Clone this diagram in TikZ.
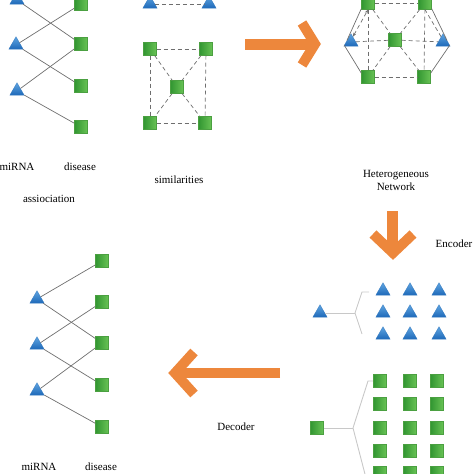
\documentclass[tikz,border=0pt]{standalone}
\usepackage{fontspec}
\setmainfont{Liberation Serif}
\usetikzlibrary{shapes.geometric,arrows.meta}
\definecolor{sqfillA}{RGB}{50,150,50}
\definecolor{sqfillB}{RGB}{105,195,85}
\definecolor{sqline}{RGB}{75,160,65}
\definecolor{trifillA}{RGB}{95,165,225}
\definecolor{trifillB}{RGB}{30,105,185}
\definecolor{triline}{RGB}{50,120,190}
\definecolor{arroworange}{RGB}{237,135,60}
\definecolor{edgegray}{RGB}{110,110,110}
\definecolor{bracegray}{RGB}{200,200,200}
\begin{document}
\begin{tikzpicture}[x=1pt,y=-1pt,
 sq/.style={rectangle, minimum size=13pt, inner sep=0pt, draw=sqline, line width=0.3pt, shading=axis, shading angle=45, left color=sqfillA, right color=sqfillB},
 tri/.style={regular polygon, regular polygon sides=3, minimum size=16.5pt, inner sep=0pt, draw=triline, line width=0.3pt, top color=trifillA, bottom color=trifillB},
 edge/.style={draw=edgegray, line width=0.7pt},
 dedge/.style={edge, dash pattern=on 4pt off 3pt},
 brace/.style={draw=bracegray, line width=0.9pt},
 bigshaft/.style={draw=arroworange, line width=11pt},
 chev/.style={draw=arroworange, line width=10pt, miter limit=10},
 lbl/.style={font=\fontsize{11}{13}\selectfont, inner sep=0pt},
 tip/.style={-{Stealth[length=4pt,width=3pt]}}]
\useasboundingbox (0,0) rectangle (474,474);
\clip (0,0) rectangle (474,474);

% ---------- top-left: association ----------
\node[tri] (a1) at (17,0) {};
\node[tri] (a2) at (16,45) {};
\node[tri] (a3) at (17,91) {};
\node[sq] (b1) at (81,4) {};
\node[sq] (b2) at (81,44) {};
\node[sq] (b3) at (81,86) {};
\node[sq] (b4) at (81,127) {};
\draw[edge] (a1) -- (b2);
\draw[edge] (a2) -- (b1);
\draw[edge] (a2) -- (b3);
\draw[edge] (a3) -- (b2);
\draw[edge] (a3) -- (b4);
\node[lbl] (lmirna1) at (17,167) {miRNA};
\node[lbl] (ldis1) at (80,167) {disease};
\node[lbl] (lasso) at (49,199) {assiociation};

% ---------- similarities ----------
\node[tri] (sT1) at (150,4) {};
\node[tri] (sT2) at (209,4) {};
\draw[dedge] (sT1) -- (sT2);
\node[sq] (sA) at (150,49) {};
\node[sq] (sB) at (206,49) {};
\node[sq] (sC) at (177,87) {};
\node[sq] (sD) at (150,123) {};
\node[sq] (sE) at (205,123) {};
\draw[dedge] (sA) -- (sB);
\draw[dedge] (sA) -- (sD);
\draw[dedge] (sB) -- (sE);
\draw[dedge] (sD) -- (sE);
\draw[dedge] (sA) -- (sC);
\draw[dedge] (sB) -- (sC);
\draw[dedge] (sC) -- (sD);
\draw[dedge] (sC) -- (sE);
\node[lbl] (lsim) at (179,180) {similarities};

% ---------- arrow right ----------
\coordinate (r1s) at (245,44);
\coordinate (r1e) at (313,44);
\coordinate (r1a) at (302,23);
\coordinate (r1v) at (315,44);
\coordinate (r1b) at (302,65);
\draw[bigshaft] (r1s) -- (r1e);
\draw[chev] (r1a) -- (r1v) -- (r1b);

% ---------- heterogeneous network ----------
\node[sq] (hTL) at (368,3) {};
\node[sq] (hTR) at (425,3) {};
\node[sq] (hC) at (395,40) {};
\node[sq] (hBL) at (368,77) {};
\node[sq] (hBR) at (424,77) {};
\node[tri] (hL) at (351,42) {};
\node[tri] (hR) at (443,42) {};
\draw[dedge] (hTL) -- (hTR);
\draw[dedge] (hBL) -- (hBR);
\draw[dedge] (hTL) -- (hBL);
\draw[dedge] (hTR) -- (hBR);
\draw[dedge] (hL) -- (hC);
\draw[dedge] (hC) -- (hR);
\draw[dedge] (hTL) -- (hC);
\draw[dedge] (hTR) -- (hC);
\draw[dedge] (hC) -- (hBL);
\draw[dedge] (hC) -- (hBR);
\draw[edge] (hL.160) -- (hTL.220);
\draw[edge] (hL.205) -- (hBL.150);
\draw[edge] (hR.20) -- (hTR.320);
\draw[edge] (hR.335) -- (hBR.30);
\draw[dedge,{Stealth[length=4pt,width=3pt]}-{Stealth[length=4pt,width=3pt]}] (hL.70) -- (hTL.south);
\draw[dedge] (hR.110) -- (hTR.south);
\node[lbl, align=center] (lhet) at (396,180) {Heterogeneous\\Network};

% ---------- arrow down ----------
\coordinate (dds) at (392.5,211);
\coordinate (dde) at (392.5,250);
\coordinate (dda) at (373,234);
\coordinate (ddv) at (393,253);
\coordinate (ddb) at (413,234);
\draw[bigshaft] (dds) -- (dde);
\draw[chev] (dda) -- (ddv) -- (ddb);
\node[lbl] (lenc) at (454,244) {Encoder};

% ---------- encoder: triangles ----------
\node[tri] (eT) at (320,313) {};
\coordinate (eM) at (355,313);
\coordinate (eTopT) at (369,292);
\coordinate (eTop) at (362,292);
\coordinate (eBot) at (362,334);
\draw[brace] (eT) -- (eM);
\draw[brace] (eTopT) -- (eTop) -- (eM) -- (eBot);
\foreach \i/\y in {1/291,2/313,3/335}{
  \foreach \j/\x in {1/383,2/410,3/439}{
    \node[tri] (g\i\j) at (\x,\y) {};
  }
}

% ---------- encoder: squares ----------
\node[sq] (eS) at (317,428) {};
\coordinate (qM) at (353,428);
\coordinate (qTopT) at (378,381);
\coordinate (qTop) at (368,381);
\coordinate (qBot) at (366,478);
\draw[brace] (eS) -- (qM);
\draw[brace] (qTopT) -- (qTop) -- (qM) -- (qBot);
\foreach \i/\y in {1/381,2/404,3/428,4/451,5/473}{
  \foreach \j/\x in {1/380,2/410,3/437}{
    \node[sq] (q\i\j) at (\x,\y) {};
  }
}

% ---------- arrow left ----------
\coordinate (lls) at (280,373);
\coordinate (lle) at (178,373);
\coordinate (lla) at (194,352);
\coordinate (llv) at (175,373);
\coordinate (llb) at (194,394);
\draw[bigshaft, line width=10pt] (lls) -- (lle);
\draw[chev] (lla) -- (llv) -- (llb);
\node[lbl] (ldec) at (236,427) {Decoder};

% ---------- bottom-left: predicted associations ----------
\node[tri] (c1) at (37,299) {};
\node[tri] (c2) at (37,345) {};
\node[tri] (c3) at (37,391) {};
\node[sq] (d1) at (102,261) {};
\node[sq] (d2) at (102,302) {};
\node[sq] (d3) at (102,343) {};
\node[sq] (d4) at (102,385) {};
\node[sq] (d5) at (102,427) {};
\draw[edge] (c1) -- (d1);
\draw[edge] (c1) -- (d3);
\draw[edge] (c2) -- (d2);
\draw[edge] (c2) -- (d4);
\draw[edge] (c3) -- (d3);
\draw[edge] (c3) -- (d5);
\node[lbl] (lmirna2) at (39,467) {miRNA};
\node[lbl] (ldis2) at (101,467) {disease};
\end{tikzpicture}
\end{document}
